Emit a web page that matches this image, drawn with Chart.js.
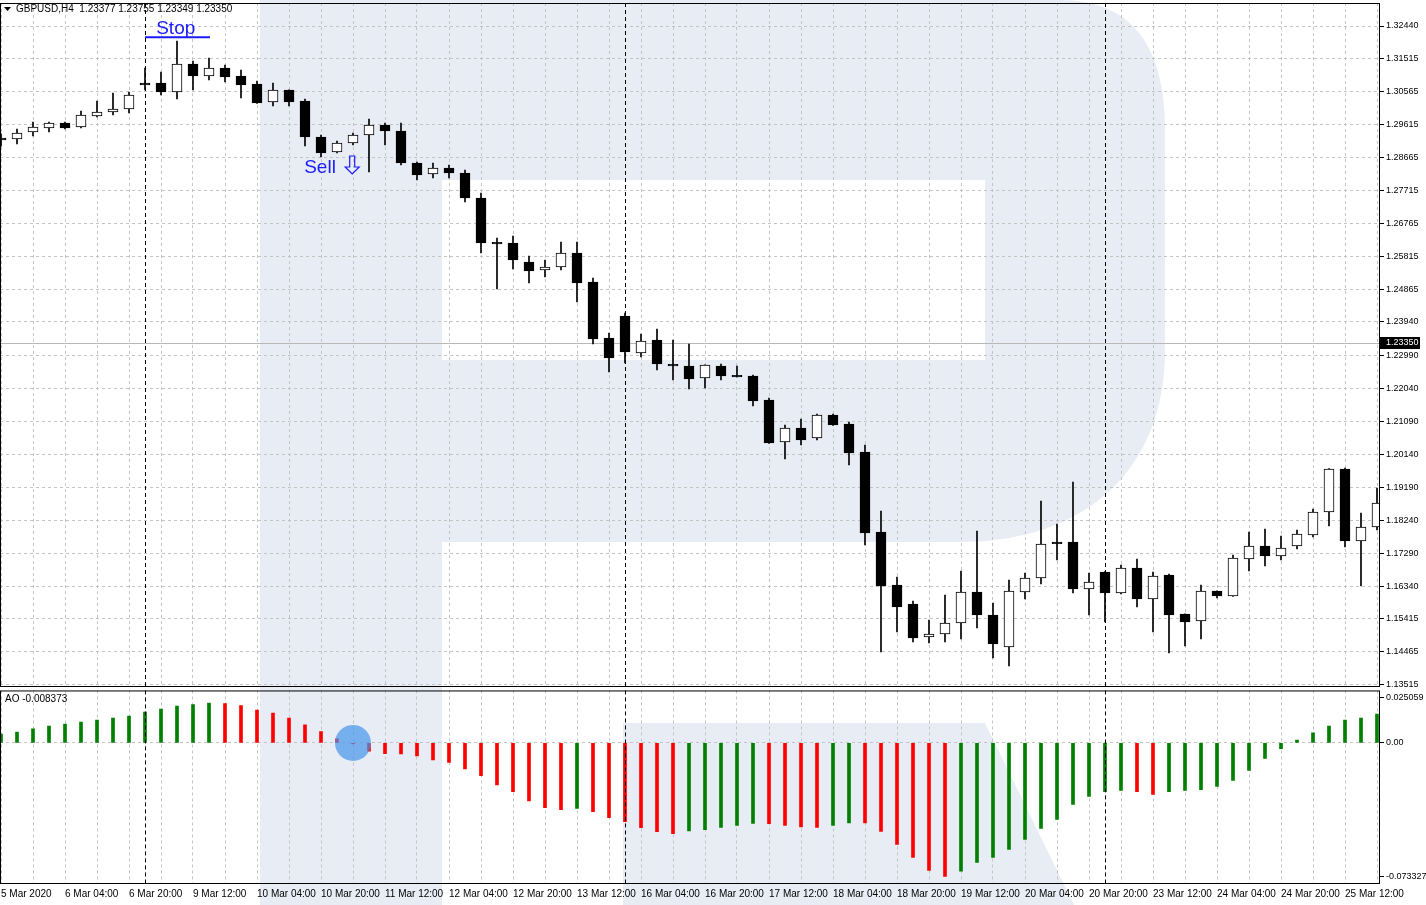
<!DOCTYPE html>
<html>
<head>
<meta charset="utf-8">
<script src="https://cdn.jsdelivr.net/npm/chart.js@4.4.1/dist/chart.umd.min.js"></script>
<style>
  html, body { margin: 0; padding: 0; background: #fff; overflow: hidden; }
  #wrap { position: relative; width: 1426px; height: 905px; overflow: hidden; }
  canvas { position: absolute; left: 0; }
  #logo { top: 0; }
  #price { top: 0; }
  #ao { top: 688px; left: -3px; }
</style>
</head>
<body>
<div id="wrap">
  <canvas id="logo" width="1426" height="905"></canvas>
  <canvas id="price" width="1426" height="690"></canvas>
  <canvas id="ao" width="1429" height="217"></canvas>
</div>
<script>
// GBPUSD H4 candles: [open, high, low, close]
const candles = [
  [1.2922, 1.2934, 1.2899, 1.2917], [1.29195, 1.29482, 1.29051, 1.29367], [1.29396, 1.29683, 1.29281, 1.29540],
  [1.29511, 1.29680, 1.29396, 1.29654], [1.29654, 1.29683, 1.29482, 1.29511], [1.29540, 1.29999, 1.29511, 1.29884],
  [1.29855, 1.30286, 1.29827, 1.29970], [1.29970, 1.30516, 1.29884, 1.30057], [1.30057, 1.30545, 1.29942, 1.30459],
  [1.30800, 1.31234, 1.30602, 1.30750], [1.30803, 1.31119, 1.30459, 1.30545], [1.30545, 1.32009, 1.30344, 1.31349],
  [1.31349, 1.31435, 1.30602, 1.31004], [1.31004, 1.31521, 1.30889, 1.31234], [1.31234, 1.31320, 1.30832, 1.30976],
  [1.31004, 1.31177, 1.30373, 1.30746], [1.30775, 1.30861, 1.30220, 1.30229], [1.30258, 1.30803, 1.30143, 1.30602],
  [1.30602, 1.30610, 1.30143, 1.30258], [1.30286, 1.30344, 1.28994, 1.29252], [1.29252, 1.29310, 1.28678, 1.28793],
  [1.28822, 1.29138, 1.28793, 1.29080], [1.29080, 1.29367, 1.29023, 1.29310], [1.29310, 1.29769, 1.28247, 1.29597],
  [1.29597, 1.29654, 1.29023, 1.29425], [1.29425, 1.29654, 1.28448, 1.28506], [1.28506, 1.28534, 1.28017, 1.28161],
  [1.28190, 1.28506, 1.28075, 1.28362], [1.28362, 1.28448, 1.28075, 1.28219], [1.28219, 1.28305, 1.27385, 1.27500],
  [1.27500, 1.27644, 1.25921, 1.26208], [1.26230, 1.26352, 1.24887, 1.26185], [1.26208, 1.26409, 1.25461, 1.25720],
  [1.25662, 1.25835, 1.25059, 1.25404], [1.25433, 1.25720, 1.25231, 1.25519], [1.25519, 1.26237, 1.25433, 1.25921],
  [1.25921, 1.26237, 1.24514, 1.25059], [1.25088, 1.25203, 1.23307, 1.23451], [1.23480, 1.23623, 1.22503, 1.22905],
  [1.24111, 1.24198, 1.22762, 1.23078], [1.23049, 1.23594, 1.22934, 1.23393], [1.23422, 1.23738, 1.22561, 1.22733],
  [1.22725, 1.23422, 1.22273, 1.22680], [1.22676, 1.23307, 1.22015, 1.22302], [1.22331, 1.22710, 1.22044, 1.22704],
  [1.22676, 1.22733, 1.22273, 1.22388], [1.22410, 1.22676, 1.22359, 1.22365], [1.22388, 1.22417, 1.21527, 1.21670],
  [1.21699, 1.21756, 1.20455, 1.20464], [1.20493, 1.20981, 1.20005, 1.20895], [1.20895, 1.21153, 1.20407, 1.20550],
  [1.20608, 1.21297, 1.20550, 1.21268], [1.21268, 1.21297, 1.20970, 1.20981], [1.21010, 1.21067, 1.19832, 1.20177],
  [1.20206, 1.20407, 1.17534, 1.17879], [1.17908, 1.18511, 1.14462, 1.16357], [1.16386, 1.16616, 1.15036, 1.15754],
  [1.15840, 1.15926, 1.14749, 1.14863], [1.14892, 1.15381, 1.14720, 1.14978], [1.14978, 1.16099, 1.14749, 1.15294],
  [1.15294, 1.16788, 1.14835, 1.16185], [1.16185, 1.17937, 1.15151, 1.15524], [1.15524, 1.15869, 1.14289, 1.14691],
  [1.14605, 1.16530, 1.14060, 1.16214], [1.16185, 1.16731, 1.15984, 1.16587], [1.16587, 1.18798, 1.16415, 1.17563],
  [1.17615, 1.18138, 1.17104, 1.17570], [1.17621, 1.19344, 1.16156, 1.16271], [1.16271, 1.16731, 1.15524, 1.16472],
  [1.16759, 1.16770, 1.15323, 1.16156], [1.16156, 1.16960, 1.16127, 1.16874], [1.16874, 1.17133, 1.15754, 1.15984],
  [1.15984, 1.16759, 1.15036, 1.16644], [1.16673, 1.16702, 1.14433, 1.15524], [1.15553, 1.15560, 1.14634, 1.15323],
  [1.15352, 1.16386, 1.14835, 1.16214], [1.16214, 1.16220, 1.16013, 1.16070], [1.16070, 1.17247, 1.16060, 1.17161],
  [1.17133, 1.17908, 1.16788, 1.17506], [1.17506, 1.17994, 1.16931, 1.17219], [1.17219, 1.17793, 1.17104, 1.17448],
  [1.17506, 1.17965, 1.17420, 1.17851], [1.17822, 1.18568, 1.17764, 1.18482], [1.18482, 1.19730, 1.18080, 1.19717],
  [1.19717, 1.19746, 1.17477, 1.17650], [1.17650, 1.18454, 1.16357, 1.18052], [1.18052, 1.19172, 1.17965, 1.18741]
];

// Awesome Oscillator values, one per candle
const aoValues = [
  0.0049, 0.0060, 0.0077, 0.0093, 0.0104, 0.0115, 0.0126, 0.0137, 0.0148, 0.0170,
  0.0187, 0.0203, 0.0211, 0.0220, 0.0216, 0.0205, 0.0181, 0.0165, 0.0137, 0.0099,
  0.0062, 0.0022, -0.0005, -0.0046, -0.0059, -0.0060, -0.0071, -0.0093, -0.0108, -0.0143,
  -0.0181, -0.0231, -0.0269, -0.0319, -0.0356, -0.0368, -0.0361, -0.0379, -0.0412, -0.0434,
  -0.0467, -0.0489, -0.0500, -0.0484, -0.0478, -0.0465, -0.0454, -0.0443, -0.0445, -0.0454,
  -0.0462, -0.0465, -0.0454, -0.0440, -0.0441, -0.0487, -0.0559, -0.0630, -0.0702, -0.0735,
  -0.0707, -0.0658, -0.0630, -0.0586, -0.0531, -0.0471, -0.0421, -0.0339, -0.0295, -0.0269,
  -0.0262, -0.0268, -0.0284, -0.0268, -0.0262, -0.0257, -0.0240, -0.0207, -0.0152, -0.0086,
  -0.0031, 0.0016, 0.0055, 0.0093, 0.0126, 0.0137, 0.0159
];

const timeLabels = [
  '5 Mar 2020', '6 Mar 04:00', '6 Mar 20:00', '9 Mar 12:00', '10 Mar 04:00', '10 Mar 20:00',
  '11 Mar 12:00', '12 Mar 04:00', '12 Mar 20:00', '13 Mar 12:00', '16 Mar 04:00', '16 Mar 20:00',
  '17 Mar 12:00', '18 Mar 04:00', '18 Mar 20:00', '19 Mar 12:00', '20 Mar 04:00', '20 Mar 20:00',
  '23 Mar 12:00', '24 Mar 04:00', '24 Mar 20:00', '25 Mar 12:00'
];
const priceTicks = [
  1.32440, 1.31515, 1.30565, 1.29615, 1.28665, 1.27715, 1.26765, 1.25815, 1.24865, 1.23940,
  1.22990, 1.22040, 1.21090, 1.20140, 1.19190, 1.18240, 1.17290, 1.16340, 1.15415, 1.14465, 1.13515
];
const aoTicks = [0.025059, 0, -0.073327];
const separators = [9, 39, 69];
const lastPrice = 1.23350;
const stopPrice = 1.3212;
const sellPrice = 1.2842;

const FONT = '"Liberation Sans", Arial, sans-serif';
const GRID = '#c4c4c4';
const X_MIN = -0.0625, X_MAX = 86.1875;

// Faint "R" watermark behind both panels
(function drawLogo() {
    const c = document.getElementById('logo').getContext('2d');
    c.fillStyle = '#e8ecf4';
    c.fillRect(260, 0, 182, 905);
    c.beginPath();
    c.moveTo(442, 0);
    c.lineTo(1060, 0);
    c.quadraticCurveTo(1165, 0, 1165, 130);
    c.lineTo(1165, 350);
    c.bezierCurveTo(1165, 470, 1085, 542, 960, 542);
    c.lineTo(442, 542);
    c.closePath();
    c.fill();
    c.beginPath();
    c.moveTo(623, 723);
    c.lineTo(985, 723);
    c.lineTo(1074, 905);
    c.lineTo(623, 905);
    c.closePath();
    c.fill();
    c.fillStyle = '#fff';
    c.fillRect(442, 180, 543, 180);
})();

const idx = candles.map((_, i) => i);
const evenTicks = idx.filter(i => i % 2 === 0).map(v => ({ value: v }));

function xScale(showLabels) {
    return {
        type: 'linear', min: X_MIN, max: X_MAX, offset: false,
        display: true,
        afterBuildTicks: s => { s.ticks = evenTicks.slice(); },
        afterFit: s => { s.height = showLabels ? 21 : 0; },
        grid: { color: GRID, drawTicks: false, offset: false },
        border: { display: false, dash: [3, 3] },
        ticks: {
            display: showLabels, autoSkip: false, maxRotation: 0, align: 'start', padding: 4,
            color: '#000', font: { family: FONT, size: 10, lineHeight: 1.2 },
            callback: v => (v % 4 === 0 ? timeLabels[v / 4] : '')
        }
    };
}

const framePlugin = {
    id: 'frame',
    afterDraw(chart) {
        const { ctx, chartArea: a, scales } = chart;
        ctx.save();
        ctx.strokeStyle = '#000';
        ctx.lineWidth = 1;
        ctx.setLineDash([4, 3]);
        separators.forEach(i => {
            const x = Math.round(scales.x.getPixelForValue(i)) + 0.5;
            ctx.beginPath(); ctx.moveTo(x, a.top); ctx.lineTo(x, a.bottom); ctx.stroke();
        });
        ctx.setLineDash([]);
        ctx.strokeRect(a.left + 0.5, a.top + 0.5, a.right - a.left - 1, a.bottom - a.top - 1);
        ctx.restore();
    }
};

const priceDecor = {
    id: 'priceDecor',
    beforeDatasetsDraw(chart) {
        const { ctx, chartArea: a, scales } = chart;
        const y = Math.round(scales.y.getPixelForValue(lastPrice)) + 0.5;
        ctx.save();
        ctx.strokeStyle = '#b8b8b8';
        ctx.beginPath(); ctx.moveTo(a.left, y); ctx.lineTo(a.right, y); ctx.stroke();
        ctx.restore();
    },
    afterDraw(chart) {
        const { ctx, chartArea: a, scales } = chart;
        ctx.save();
        // current price tag
        const y = Math.round(scales.y.getPixelForValue(lastPrice));
        ctx.fillStyle = '#000';
        ctx.fillRect(a.right, y - 6, 40, 12);
        ctx.fillStyle = '#fff';
        ctx.font = '9px ' + FONT;
        ctx.textBaseline = 'middle';
        ctx.fillText(lastPrice.toFixed(5), a.right + 6, y);
        // header
        ctx.fillStyle = '#000';
        ctx.font = '10px ' + FONT;
        ctx.beginPath(); ctx.moveTo(4, 7); ctx.lineTo(11, 7); ctx.lineTo(7.5, 11); ctx.fill();
        ctx.fillText('GBPUSD,H4  1.23377 1.23755 1.23349 1.23350', 16, 9);
        // Stop marker
        const sy = scales.y.getPixelForValue(stopPrice);
        const sx0 = scales.x.getPixelForValue(9), sx1 = scales.x.getPixelForValue(13);
        ctx.fillStyle = '#1a1aff';
        ctx.strokeStyle = '#1a1aff';
        ctx.font = '19px ' + FONT;
        ctx.textBaseline = 'alphabetic';
        ctx.fillText('Stop', scales.x.getPixelForValue(9.7), sy - 3);
        ctx.lineWidth = 2;
        ctx.beginPath(); ctx.moveTo(sx0, sy); ctx.lineTo(sx1 + 1, sy); ctx.stroke();
        // Sell marker
        const ly = scales.y.getPixelForValue(sellPrice);
        ctx.fillText('Sell', scales.x.getPixelForValue(18.95), ly + 7);
        const ax = scales.x.getPixelForValue(21.95);
        ctx.lineWidth = 1.2;
        ctx.beginPath();
        ctx.moveTo(ax - 2.5, ly - 10); ctx.lineTo(ax + 2.5, ly - 10); ctx.lineTo(ax + 2.5, ly + 1);
        ctx.lineTo(ax + 7, ly + 1); ctx.lineTo(ax, ly + 8); ctx.lineTo(ax - 7, ly + 1);
        ctx.lineTo(ax - 2.5, ly + 1); ctx.closePath(); ctx.stroke();
        ctx.restore();
    }
};

new Chart(document.getElementById('price'), {
    type: 'bar',
    data: {
        datasets: [
            {
                label: 'wick',
                data: candles.map((c, i) => ({ x: i, y: [c[2], c[1]] })),
                backgroundColor: '#000',
                barThickness: 1,
                grouped: false,
                order: 2
            },
            {
                label: 'body',
                data: candles.map((c, i) => ({ x: i, y: [c[0], c[3]] })),
                backgroundColor: candles.map(c => (c[3] > c[0] ? '#fff' : '#000')),
                borderColor: '#000',
                borderWidth: 1,
                borderSkipped: false,
                barThickness: 10,
                grouped: false,
                order: 1
            }
        ]
    },
    options: {
        responsive: false,
        animation: false,
        layout: { padding: { top: 3, bottom: 3, left: 0, right: 0 }, autoPadding: false },
        plugins: { legend: { display: false }, tooltip: { enabled: false } },
        scales: {
            x: xScale(false),
            y: {
                position: 'right', min: 1.13456, max: 1.33101,
                afterBuildTicks: s => { s.ticks = priceTicks.map(v => ({ value: v })); },
                afterFit: s => { s.width = 46; },
                grid: { color: GRID, tickLength: 4, tickColor: '#000', tickBorderDash: [] },
                border: { display: false, dash: [3, 3] },
                ticks: { color: '#000', padding: 2, font: { family: FONT, size: 9, lineHeight: 0.1 },
                         callback: v => v.toFixed(5) }
            }
        }
    },
    plugins: [framePlugin, priceDecor]
});

const aoDecor = {
    id: 'aoDecor',
    afterDraw(chart) {
        const { ctx, chartArea: a, scales } = chart;
        ctx.save();
        ctx.fillStyle = 'rgba(70, 150, 235, 0.7)';
        ctx.beginPath();
        ctx.arc(scales.x.getPixelForValue(22), scales.y.getPixelForValue(0), 18, 0, Math.PI * 2);
        ctx.fill();
        ctx.fillStyle = '#000';
        ctx.font = '10px ' + FONT;
        ctx.textBaseline = 'middle';
        ctx.fillText('AO -0.008373', a.left + 5, 11);
        ctx.restore();
    }
};

new Chart(document.getElementById('ao'), {
    type: 'bar',
    data: {
        datasets: [{
            label: 'AO',
            data: aoValues.map((v, i) => ({ x: i, y: v })),
            backgroundColor: aoValues.map((v, i) => (i > 0 && v < aoValues[i - 1] ? '#ff0000' : '#008000')),
            barThickness: 3
        }]
    },
    options: {
        responsive: false,
        animation: false,
        layout: { padding: { top: 2, bottom: 0, left: 0, right: 0 }, autoPadding: false },
        plugins: { legend: { display: false }, tooltip: { enabled: false } },
        scales: {
            x: xScale(true),
            y: {
                position: 'right', min: -0.0777, max: 0.0289,
                afterBuildTicks: s => { s.ticks = aoTicks.map(v => ({ value: v })); },
                afterFit: s => { s.width = 46; },
                grid: {
                    color: c => (c.tick && c.tick.value === 0 ? GRID : 'rgba(0,0,0,0)'),
                    tickLength: 4, tickColor: '#000', tickBorderDash: []
                },
                border: { display: false, dash: [3, 3] },
                ticks: { color: '#000', padding: 2, font: { family: FONT, size: 9, lineHeight: 0.1 },
                         callback: v => (v === 0 ? '0.00' : v.toFixed(6)) }
            }
        }
    },
    plugins: [framePlugin, aoDecor]
});
</script>
</body>
</html>
